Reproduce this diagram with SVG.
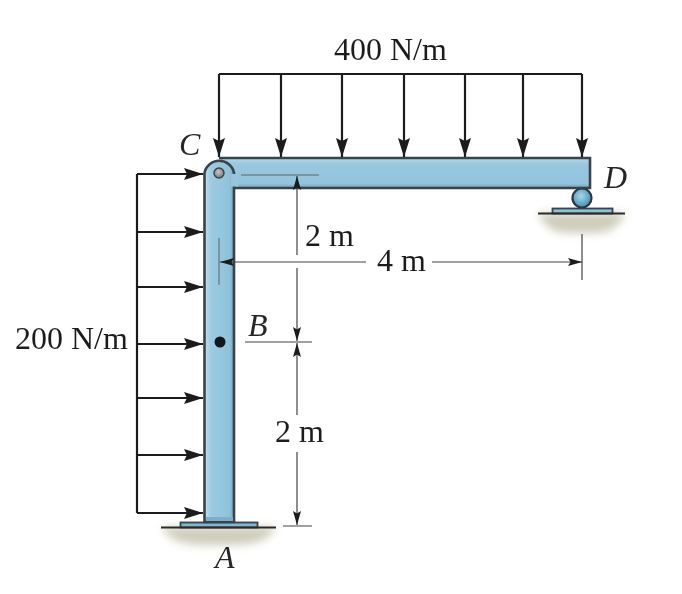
<svg xmlns="http://www.w3.org/2000/svg" width="682" height="594" viewBox="0 0 682 594">
<style>
.load{fill:none;stroke:#1e1e1e;stroke-width:2.200}
.dim{fill:none;stroke:#444;stroke-width:1.200}
.ext{fill:none;stroke:#6f8490;stroke-width:1.500}
.grd{fill:none;stroke:#2b2b2b;stroke-width:2.200}
.t{font-family:"Liberation Serif","Times New Roman",serif;font-size:32px;fill:#1e1e1e}
.i{font-style:italic;fill:#262626}
</style>
<defs>
<marker id="la" markerUnits="userSpaceOnUse" markerWidth="20" markerHeight="14" refX="19" refY="7" orient="auto"><path d="M0 1L19 7L0 13L3 7Z" fill="#1a1a1a"/></marker>
<marker id="da" markerUnits="userSpaceOnUse" markerWidth="15" markerHeight="10" refX="14" refY="5" orient="auto"><path d="M0 1L14 5L0 9L2.500 5Z" fill="#1a1a1a"/></marker>
<linearGradient id="col" x1="0" x2="1" y1="0" y2="0"><stop offset="0" stop-color="#c3e0ee"/><stop offset=".22" stop-color="#9ccbe2"/><stop offset=".85" stop-color="#8fc2da"/><stop offset="1" stop-color="#6fa9c6"/></linearGradient>
<linearGradient id="beam" x1="0" x2="0" y1="0" y2="1"><stop offset="0" stop-color="#b5d9ea"/><stop offset=".2" stop-color="#98c8df"/><stop offset=".85" stop-color="#93c4dc"/><stop offset="1" stop-color="#6fa5c0"/></linearGradient>
<radialGradient id="ball" cx=".45" cy=".4" r=".6"><stop offset="0" stop-color="#a8d8ea"/><stop offset="1" stop-color="#3f8fb5"/></radialGradient>
<radialGradient id="pin" cx=".45" cy=".4" r=".6"><stop offset="0" stop-color="#c8c8c8"/><stop offset="1" stop-color="#777"/></radialGradient>
<filter id="sh" x="-20%" y="-60%" width="140%" height="220%"><feGaussianBlur stdDeviation="4"/></filter>
<filter id="soft" x="0" y="0" width="682" height="594" filterUnits="userSpaceOnUse"><feGaussianBlur stdDeviation="0.500"/></filter>
</defs>
<g filter="url(#soft)">
<rect x="0" y="0" width="682" height="594" fill="#fff"/>
<g id="support-A">
<path d="M162 527H276Q268 544 238 545H200Q170 544 162 527Z" fill="#cfcebb" filter="url(#sh)"/>
<rect x="180.500" y="522.500" width="77" height="5" fill="#7fb6d2" stroke="#3a4248" stroke-width="1.800"/>
<path class="grd" d="M161 527.500H276"/>
</g>
<g id="support-D">
<path d="M538 213H625Q618 232 596 233H566Q546 232 538 213Z" fill="#cfcebb" filter="url(#sh)"/>
<rect x="552.500" y="208.500" width="60" height="5" fill="#8cc2da" stroke="#3a4248" stroke-width="1.800"/>
<path class="grd" d="M538 213.500H625"/>
<circle cx="582" cy="198" r="9.500" fill="url(#ball)" stroke="#2f373c" stroke-width="2.200"/>
</g>
<g id="member-BD">
<path d="M219 158H590V188H234" fill="url(#beam)" stroke="#3a4248" stroke-width="2.600"/>
</g>
<g id="member-AC">
<path d="M204.500 522V173A15 15 0 0 1 234 173V522Z" fill="url(#col)" stroke="#3a4248" stroke-width="2.600"/>
<path d="M206 517H233V521H206Z" fill="#79b0cc"/>
<rect x="231" y="174" width="7" height="12.500" fill="#96c6de"/>
</g>
<g id="node-C">
<circle cx="219" cy="173" r="5" fill="url(#pin)" stroke="#3a4248" stroke-width="1.400"/>
<text class="t i" x="179" y="155">C</text>
</g>
<g id="node-B">
<circle cx="220" cy="342" r="5.500" fill="#141414"/>
<text class="t i" x="248" y="336">B</text>
</g>
<g id="node-A"><text class="t i" x="215" y="568">A</text></g>
<g id="node-D"><text class="t i" x="604" y="188">D</text></g>
<g id="connectors">
<path class="load" d="M219 74H582"/>
<path class="load" d="M219 74V157" marker-end="url(#la)"/>
<path class="load" d="M281 74V157" marker-end="url(#la)"/>
<path class="load" d="M342 74V157" marker-end="url(#la)"/>
<path class="load" d="M404 74V157" marker-end="url(#la)"/>
<path class="load" d="M465 74V157" marker-end="url(#la)"/>
<path class="load" d="M523 74V157" marker-end="url(#la)"/>
<path class="load" d="M582 74V157" marker-end="url(#la)"/>
<path class="load" d="M137 174V513"/>
<path class="load" d="M137 174H203" marker-end="url(#la)"/>
<path class="load" d="M137 232H203" marker-end="url(#la)"/>
<path class="load" d="M137 287H203" marker-end="url(#la)"/>
<path class="load" d="M137 344H203" marker-end="url(#la)"/>
<path class="load" d="M137 398H203" marker-end="url(#la)"/>
<path class="load" d="M137 455H203" marker-end="url(#la)"/>
<path class="load" d="M137 513H203" marker-end="url(#la)"/>
<path class="ext" d="M241 175H319"/>
<path class="ext" d="M219 238V285"/>
<path class="dim" d="M245 342H312M283 526H312M582 234V280"/>
<path class="dim" d="M297 255V176" marker-end="url(#da)"/>
<path class="dim" d="M297 268V341" marker-end="url(#da)"/>
<path class="dim" d="M297 415V343" marker-end="url(#da)"/>
<path class="dim" d="M297 452V525" marker-end="url(#da)"/>
<path class="dim" d="M366 262H220" marker-end="url(#da)"/>
<path class="dim" d="M432 262H582" marker-end="url(#da)"/>
</g>
<g id="labels">
<text class="t" x="334" y="60">400 N/m</text>
<text class="t" x="15" y="349">200 N/m</text>
<text class="t" x="305" y="246">2 m</text>
<text class="t" x="377" y="271">4 m</text>
<text class="t" x="275" y="442">2 m</text>
</g>
</g>
</svg>
